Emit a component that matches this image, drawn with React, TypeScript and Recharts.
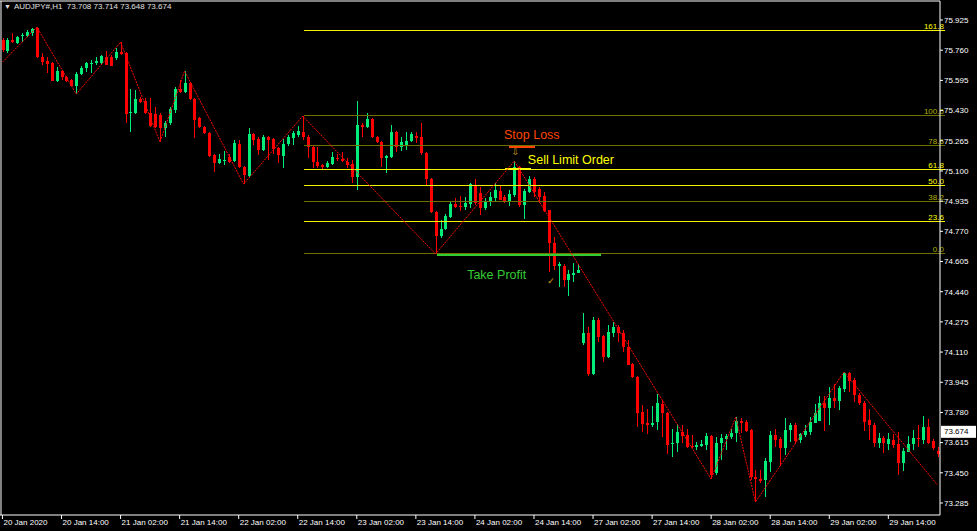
import React from 'react';
import { ComposedChart, Bar, Line, XAxis, YAxis, ReferenceLine, ReferenceDot } from 'recharts';

const FONT = '"Liberation Sans", Arial, sans-serif';
const GREEN = '#00ee77';
const RED = '#ff0000';

const opens = [75.815,75.755,75.815,75.799,75.837,75.837,75.854,75.881,75.722,75.701,75.690,75.591,75.646,75.613,75.597,75.564,75.630,75.662,75.684,75.690,75.690,75.722,75.722,75.717,75.750,75.744,75.416,75.416,75.493,75.482,75.416,75.411,75.405,75.334,75.361,75.433,75.548,75.531,75.580,75.493,75.389,75.340,75.307,75.187,75.143,75.154,75.176,75.154,75.247,75.121,75.072,75.302,75.274,75.214,75.285,75.274,75.225,75.181,75.247,75.280,75.296,75.312,75.285,75.231,75.149,75.132,75.121,75.138,75.170,75.165,75.149,75.138,75.067,75.351,75.340,75.383,75.285,75.258,75.170,75.176,75.312,75.231,75.241,75.263,75.291,75.285,75.198,75.056,74.875,74.744,74.782,74.848,74.919,74.908,74.903,74.919,75.023,74.979,74.897,74.930,74.952,74.990,74.957,74.930,74.968,75.121,74.914,74.985,75.056,75.001,74.963,74.886,74.706,74.580,74.580,74.503,74.531,74.542,74.159,74.214,73.990,74.285,74.197,74.083,74.214,74.247,74.214,74.137,74.044,73.973,73.782,73.722,73.711,73.728,73.826,73.777,73.607,73.613,73.673,73.656,73.596,73.591,73.596,73.602,73.651,73.449,73.613,73.635,73.646,73.667,73.733,73.728,73.684,73.427,73.416,73.410,73.509,73.656,73.635,73.585,73.684,73.711,73.629,73.656,73.673,73.722,73.733,73.831,73.804,73.859,73.842,73.908,73.995,73.957,73.875,73.831,73.738,73.711,73.613,73.640,73.607,73.629,73.607,73.503,73.563,73.607,73.640,73.629,73.700,73.624,73.569];
const highs = [75.826,75.826,75.854,75.837,75.854,75.870,75.881,75.886,75.744,75.722,75.695,75.668,75.651,75.619,75.602,75.640,75.673,75.695,75.706,75.722,75.733,75.755,75.733,75.772,75.804,75.750,75.548,75.542,75.504,75.498,75.498,75.449,75.416,75.372,75.449,75.558,75.597,75.646,75.586,75.498,75.394,75.345,75.312,75.192,75.192,75.209,75.192,75.269,75.269,75.127,75.334,75.307,75.285,75.296,75.291,75.280,75.231,75.274,75.296,75.318,75.345,75.400,75.296,75.236,75.231,75.138,75.154,75.203,75.192,75.203,75.170,75.160,75.482,75.361,75.416,75.389,75.291,75.263,75.187,75.351,75.318,75.285,75.312,75.312,75.312,75.361,75.203,75.061,74.881,74.832,74.864,74.930,74.952,74.963,74.958,75.034,75.056,75.012,74.952,74.984,75.034,75.023,74.968,74.995,75.154,75.127,75.001,75.072,75.067,75.012,74.985,74.886,74.738,74.602,74.591,74.558,74.596,74.591,74.323,74.247,74.301,74.296,74.203,74.258,74.274,74.258,74.230,74.176,74.050,73.979,73.820,73.798,73.815,73.880,73.848,73.782,73.690,73.717,73.711,73.690,73.656,73.618,73.629,73.667,73.656,73.646,73.662,73.662,73.690,73.755,73.749,73.738,73.690,73.465,73.465,73.531,73.678,73.689,73.646,73.749,73.722,73.722,73.667,73.711,73.755,73.826,73.869,73.869,73.919,73.935,73.924,74.001,74.001,73.968,73.886,73.842,73.798,73.722,73.667,73.651,73.667,73.662,73.673,73.585,73.651,73.684,73.711,73.760,73.744,73.635,73.591];
const lows = [75.750,75.744,75.799,75.794,75.804,75.832,75.837,75.717,75.679,75.635,75.591,75.586,75.597,75.586,75.564,75.520,75.624,75.640,75.635,75.679,75.684,75.679,75.673,75.706,75.733,75.361,75.312,75.411,75.471,75.411,75.340,75.334,75.258,75.285,75.351,75.416,75.526,75.526,75.487,75.280,75.334,75.302,75.176,75.094,75.138,75.132,75.143,75.149,75.116,75.028,75.067,75.241,75.187,75.209,75.160,75.192,75.143,75.116,75.236,75.241,75.285,75.269,75.170,75.116,75.116,75.110,75.116,75.132,75.154,75.149,75.116,75.034,74.995,75.285,75.334,75.280,75.252,75.121,75.088,75.170,75.203,75.209,75.214,75.258,75.252,75.187,75.017,74.870,74.646,74.733,74.777,74.842,74.897,74.881,74.886,74.897,74.913,74.859,74.886,74.908,74.930,74.941,74.924,74.908,74.957,74.903,74.837,74.979,74.957,74.924,74.875,74.547,74.558,74.465,74.465,74.416,74.492,74.542,74.148,73.979,73.984,74.165,74.056,74.077,74.192,74.165,74.110,74.039,73.968,73.700,73.673,73.662,73.700,73.684,73.646,73.553,73.536,73.564,73.613,73.585,73.585,73.574,73.591,73.574,73.416,73.438,73.520,73.574,73.635,73.618,73.667,73.673,73.410,73.290,73.394,73.317,73.454,73.591,73.487,73.547,73.618,73.613,73.613,73.646,73.656,73.722,73.733,73.678,73.711,73.804,73.793,73.891,73.891,73.837,73.820,73.678,73.629,73.591,73.585,73.558,73.574,73.585,73.438,73.460,73.563,73.574,73.591,73.607,73.607,73.574,73.536];
const closes = [75.761,75.815,75.804,75.832,75.843,75.859,75.876,75.722,75.695,75.684,75.591,75.646,75.613,75.591,75.564,75.630,75.662,75.690,75.690,75.701,75.728,75.679,75.673,75.750,75.739,75.411,75.422,75.493,75.476,75.416,75.345,75.340,75.334,75.361,75.438,75.548,75.531,75.580,75.493,75.378,75.340,75.307,75.181,75.143,75.165,75.160,75.149,75.252,75.121,75.077,75.302,75.269,75.214,75.285,75.269,75.220,75.187,75.247,75.285,75.307,75.318,75.285,75.231,75.149,75.127,75.121,75.143,75.176,75.165,75.154,75.132,75.067,75.351,75.340,75.383,75.285,75.258,75.170,75.181,75.312,75.231,75.258,75.263,75.302,75.280,75.198,75.056,74.875,74.744,74.782,74.853,74.919,74.903,74.903,74.925,75.028,74.925,74.897,74.930,74.957,74.995,74.941,74.930,74.974,75.121,74.914,74.990,75.056,74.985,74.957,74.881,74.706,74.580,74.591,74.503,74.536,74.542,74.558,74.214,73.990,74.285,74.192,74.083,74.220,74.247,74.214,74.137,74.039,73.973,73.777,73.717,73.711,73.722,73.831,73.777,73.602,73.613,73.673,73.651,73.591,73.591,73.602,73.607,73.651,73.438,73.613,73.640,73.651,73.667,73.733,73.722,73.678,73.427,73.416,73.405,73.514,73.656,73.629,73.585,73.684,73.711,73.624,73.662,73.678,73.728,73.777,73.831,73.804,73.859,73.842,73.913,73.995,73.951,73.875,73.831,73.728,73.711,73.613,73.640,73.613,73.635,73.602,73.503,73.569,73.607,73.640,73.635,73.700,73.613,73.585,73.553];

// trading sessions shown on the chart (day label, first hour, last hour)
const sessionDays: [string, number, number][] = [
  ['20 Jan', 2, 23], ['21 Jan', 0, 23], ['22 Jan', 0, 23], ['23 Jan', 0, 23], ['24 Jan', 0, 23],
  ['27 Jan', 0, 23], ['28 Jan', 0, 23], ['29 Jan', 0, 23], ['30 Jan', 0, 0],
];
const times: string[] = [];
sessionDays.forEach(([d, h0, h1]) => {
  for (let h = h0; h <= h1; h++) times.push(`${d} ${String(h).padStart(2, '0')}:00`);
});
times[0] = '20 Jan 2020';

const zigzagIdx = [0, 7, 15, 24, 32, 37, 49, 61, 88, 104, 144, 149, 153, 171, 190];
const zigzagPrice = [75.695, 75.886, 75.520, 75.804, 75.258, 75.646, 75.028, 75.400, 74.646, 75.154, 73.416, 73.755, 73.290, 74.001, 73.383];

const priceTicks = [75.925, 75.76, 75.595, 75.43, 75.265, 75.1, 74.935, 74.77, 74.605, 74.44, 74.275, 74.11, 73.945, 73.78, 73.615, 73.45, 73.285];
const priceDomain = [73.2194, 76.0289];

const fibNames = ['161.8', '100.0', '78.6', '61.8', '50.0', '38.2', '23.6', '0.0'];
const fibPrices = [75.870, 75.405, 75.238, 75.108, 75.021, 74.932, 74.821, 74.647];
const fibBright = [true, false, false, true, true, false, true, false];
const fibStart = 61.5;

const lastPrice = 73.674;
const titleText = 'AUDJPY#,H1  73.708 73.714 73.648 73.674';

const stopLoss = { price: 75.231, from: 102.8, to: 108.1 };
const sellLimit = { price: 75.110, from: 102.0, to: 107.4 };
const takeProfit = { price: 74.640, from: 88.4, to: 121.5 };

const data = times.map((t, i) => ({
  t,
  open: opens[i],
  high: highs[i],
  low: lows[i],
  close: closes[i],
  range: [lows[i], highs[i]],
  zz: zigzagIdx.includes(i) ? zigzagPrice[zigzagIdx.indexOf(i)] : null,
}));

const Candle = (props: any) => {
  const { x, y, width, height, payload } = props;
  if (x == null || y == null || !payload) return null;
  const top = Math.min(y, y + height);
  const bot = Math.max(y, y + height);
  const { open, close, high, low } = payload;
  const span = high - low;
  const k = span > 0 ? (bot - top) / span : 0;
  const yO = top + (high - open) * k;
  const yC = top + (high - close) * k;
  const color = close >= open ? GREEN : RED;
  const cx = Math.round(x + width / 2);
  const bTop = Math.min(yO, yC);
  const bH = Math.max(1, Math.abs(yC - yO));
  return (
    <g shapeRendering="crispEdges">
      <line x1={cx + 0.5} x2={cx + 0.5} y1={top} y2={bot} stroke={color} strokeWidth={1} />
      <rect x={cx - 1} y={bTop} width={3} height={bH} fill={color} />
    </g>
  );
};

const XTick = (props: any) => {
  const { x, y, payload } = props;
  return (
    <text x={x + 1} y={y} dy="0.71em" textAnchor="start" fill="#ffffff" fontSize={8} fontFamily={FONT}>
      {payload.value}
    </text>
  );
};

const fibLabel = (name: string, color: string) => (p: any) => {
  const vb = p.viewBox || {};
  return (
    <text x={vb.x + vb.width - 1} y={vb.y - 1.5} textAnchor="end" fill={color} fontSize={8} fontFamily={FONT}>
      {name}
    </text>
  );
};

const note = (text: string, color: string, size: number, family: string = FONT) => (p: any) => {
  const vb = p.viewBox || {};
  return (
    <text x={vb.x + (vb.width || 0) / 2} y={vb.y + (vb.height || 0) / 2} textAnchor="middle" dominantBaseline="central" fill={color} fontSize={size} fontFamily={family}>
      {text}
    </text>
  );
};

const priceBox = (p: any) => {
  const vb = p.viewBox || {};
  const bx = vb.x + vb.width + 1;
  return (
    <g>
      <rect x={bx} y={vb.y - 6} width={35} height={12} fill="#ffffff" />
      <text x={bx + 3} y={vb.y} dominantBaseline="central" fill="#000000" fontSize={8} fontFamily={FONT}>
        {lastPrice.toFixed(3)}
      </text>
    </g>
  );
};

export default function App() {
  return (
    <div style={{ position: 'fixed', left: 0, top: 0, width: 977, height: 531, background: '#000000', overflow: 'hidden' }}>
      <ComposedChart width={977} height={531} data={data} margin={{ top: 1, right: 0, left: 0, bottom: 0 }}>
        <XAxis
          xAxisId="c"
          dataKey="t"
          interval={11}
          height={16}
          tickSize={4}
          tickMargin={0}
          tick={<XTick />}
          axisLine={{ stroke: '#ffffff' }}
          tickLine={{ stroke: '#ffffff' }}
        />
        <XAxis xAxisId="n" type="number" domain={[0, 191]} allowDataOverflow hide />
        <YAxis
          orientation="right"
          width={37}
          domain={priceDomain}
          allowDataOverflow
          ticks={priceTicks}
          interval={0}
          tickSize={3}
          tickMargin={1}
          tickFormatter={(v: number) => v.toFixed(3)}
          tick={{ fill: '#ffffff', fontSize: 8, fontFamily: FONT }}
          axisLine={{ stroke: '#ffffff' }}
          tickLine={{ stroke: '#ffffff' }}
        />
        <ReferenceLine xAxisId="n" y={priceDomain[1]} stroke="#ffffff" ifOverflow="visible" />
        <ReferenceLine xAxisId="n" x={0.2} stroke="#ffffff" ifOverflow="visible" />
        {fibPrices.map((fp, i) => (
          <ReferenceLine
            key={fibNames[i]}
            xAxisId="n"
            segment={[{ x: fibStart, y: fp }, { x: 191, y: fp }]}
            stroke={fibBright[i] ? '#f2f200' : '#707000'}
            strokeWidth={1}
            shapeRendering="crispEdges"
            ifOverflow="visible"
            label={fibLabel(fibNames[i], fibBright[i] ? '#ffff00' : '#b0b000')}
          />
        ))}
        <ReferenceLine xAxisId="n" segment={[{ x: takeProfit.from, y: takeProfit.price }, { x: takeProfit.to, y: takeProfit.price }]} stroke="#32cd32" strokeWidth={2} shapeRendering="crispEdges" />
        <ReferenceLine xAxisId="n" segment={[{ x: stopLoss.from, y: stopLoss.price }, { x: stopLoss.to, y: stopLoss.price }]} stroke="#ff4500" strokeWidth={2} shapeRendering="crispEdges" />
        <ReferenceLine xAxisId="n" segment={[{ x: sellLimit.from, y: sellLimit.price }, { x: sellLimit.to, y: sellLimit.price }]} stroke="#ffff00" strokeWidth={2} shapeRendering="crispEdges" />
        <Bar xAxisId="c" dataKey="range" barSize={3} shape={<Candle />} isAnimationActive={false} />
        <Line
          xAxisId="c"
          dataKey="zz"
          connectNulls
          dot={false}
          activeDot={false}
          stroke="#ff0000"
          strokeWidth={1}
          strokeDasharray="2 1"
          isAnimationActive={false}
        />
        <ReferenceDot xAxisId="n" x={107.5} y={75.296} r={1} fill="none" stroke="none" label={note('Stop Loss', '#ff4500', 12.5)} />
        <ReferenceDot xAxisId="n" x={115.4} y={75.159} r={1} fill="none" stroke="none" label={note('Sell Limit Order', '#ffff00', 12.5)} />
        <ReferenceDot xAxisId="n" x={100.4} y={74.531} r={1} fill="none" stroke="none" label={note('Take Profit', '#32cd32', 12.5)} />
        <ReferenceDot xAxisId="n" x={104.2} y={75.203} r={1} fill="none" stroke="none" label={note('⇩', '#daa520', 9, '"DejaVu Sans", sans-serif')} />
        <ReferenceDot xAxisId="n" x={111.4} y={74.498} r={1} fill="none" stroke="none" label={note('✓', '#daa520', 9, '"DejaVu Sans", sans-serif')} />
        <ReferenceLine xAxisId="n" y={lastPrice} stroke="none" ifOverflow="visible" label={priceBox} />
      </ComposedChart>
      <div style={{ position: 'absolute', left: 4, top: 2, color: '#e0e0e0', fontFamily: FONT, fontSize: 8, lineHeight: '10px', whiteSpace: 'pre' }}>
        <span style={{ fontSize: 7, marginRight: 3 }}>▼</span>{titleText}
      </div>
    </div>
  );
}
